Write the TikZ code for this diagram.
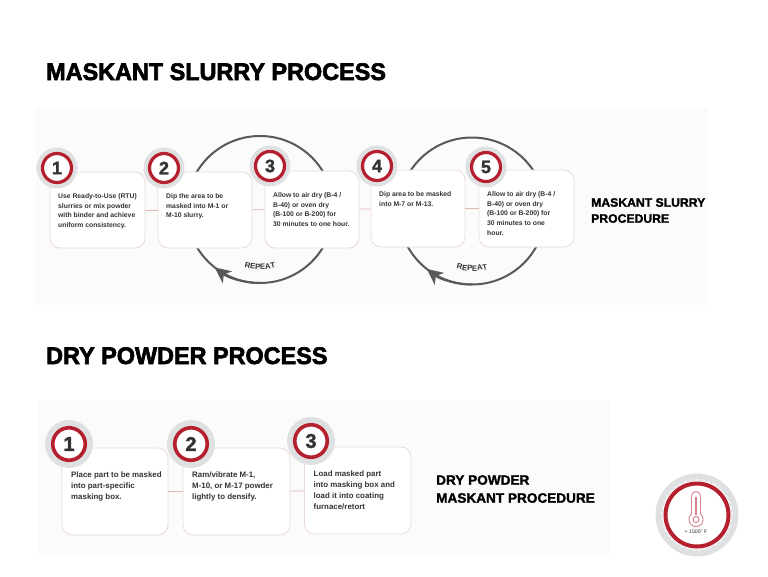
\documentclass[tikz,border=0pt]{standalone}
\usepackage{fontspec}
\setmainfont{Liberation Sans}
\newfontfamily\headfont[FakeBold=1.6]{Liberation Sans Bold}
\newfontfamily\titlefont[FakeBold=2.6,FakeStretch=0.975]{Liberation Sans Bold}
\usepackage{tikz}
\usetikzlibrary{arrows.meta,decorations.text}
\definecolor{maskred}{HTML}{B5202F}
\definecolor{ringgray}{HTML}{DFE0E2}
\definecolor{panelgray}{HTML}{FBFBFB}
\definecolor{boxline}{HTML}{EBD9D7}
\definecolor{linkred}{HTML}{E3B4B0}
\definecolor{loopgray}{HTML}{58595B}
\definecolor{inkgray}{HTML}{333333}
\tikzset{
  stepbox/.style={draw=boxline,fill=white,rounded corners=10pt,line width=0.8pt,inner sep=0pt},
  steptext/.style={anchor=north west,align=left,inner sep=0pt,font=\fontsize{6.8}{9.6}\selectfont\bfseries,text=inkgray},
  badge/.style={circle,fill=white,draw=maskred,inner sep=0pt,font=\headfont,text=inkgray},
  link/.style={draw=linkred,line width=0.8pt},
  loopline/.style={draw=loopgray,line width=2pt},
  title/.style={anchor=base west,inner sep=0pt,font=\titlefont\fontsize{24}{24}\selectfont,text=black},
  proc/.style={anchor=north west,inner sep=0pt,align=left,text=black}
}
\begin{document}
\begin{tikzpicture}[x=1pt,y=-1pt]
\useasboundingbox (0,0) rectangle (768,576);
\fill[white] (0,0) rectangle (768,576);
\fill[panelgray] (35,108) rectangle (708,305);
\fill[panelgray] (38,401) rectangle (610,555);

% Titles
\node[title] (slurrytitle) at (46,80) {MASKANT SLURRY PROCESS};
\node[title] (drytitle) at (46,364) {DRY POWDER PROCESS};

% Repeat loops
\foreach \l/\x/\y in {a/260/209.5, b/472/211} {
    \coordinate (loop\l) at (\x,\y);
    \draw[loopline] (loop\l) circle (73.5);
    \draw[loopline,-{Stealth[length=16pt,width=15pt,inset=4.5pt]}] (\x,\y+73.5) arc[start angle=90,end angle=128,radius=73.5];
    \path[decorate,decoration={text along path,text align=center,
        text={|\fontsize{7.8}{8}\selectfont\bfseries\color{inkgray}|REPEAT}}]
        (loop\l) ++(125:60) arc[start angle=125,end angle=55,radius=60];
}

% Maskant slurry steps
\foreach \n/\xl/\yt/\xr/\yb/\txt in {
    1/50/172/145/248/{Use Ready-to-Use (RTU)\\slurries or mix powder\\with binder and achieve\\uniform consistency.},
    2/158/172/252/248/{Dip the area to be\\masked into M-1 or\\M-10 slurry.},
    3/265/171/359/248/{Allow to air dry (B-4 /\\B-40) or oven dry\\(B-100 or B-200) for\\30 minutes to one hour.},
    4/371/170/465/247/{Dip area to be masked\\into M-7 or M-13.},
    5/479/170/574/247/{Allow to air dry (B-4 /\\B-40) or oven dry\\(B-100 or B-200) for\\30 minutes to one\\hour.}} {
    \node[stepbox,minimum width=\xr-\xl,minimum height=\yb-\yt] (s\n) at ({(\xl+\xr)/2},{(\yt+\yb)/2}) {};
    \node[steptext] (st\n) at (\xl+8,\yt+21.5) {\txt};
}
\foreach \a/\b in {1/2,2/3,3/4,4/5} {
    \draw[link] (s\a) -- (s\b);
}

% Numbered badges
\foreach \n/\x/\y in {1/57/168, 2/164/168, 3/270/166, 4/377/166, 5/486/167} {
    \node[circle,fill=ringgray,minimum size=41pt,inner sep=0pt] (sr\n) at (\x,\y) {};
    \node[badge,line width=3.2pt,minimum size=29pt,font=\headfont\fontsize{18}{18}\selectfont] (sb\n) at (\x,\y) {\n};
}
\node[proc,font=\headfont\fontsize{12.2}{16}\selectfont] (slurryproc) at (591,198) {MASKANT SLURRY\\PROCEDURE};

% Dry powder steps
\foreach \n/\xl/\yt/\xr/\yb/\txt in {
    1/62/448/168/535/{Place part to be masked\\into part-specific\\masking box.},
    2/183/448/290/535/{Ram/vibrate M-1,\\M-10, or M-17 powder\\lightly to densify.},
    3/304.5/447/411/534/{Load masked part\\into masking box and\\load it into coating\\furnace/retort}} {
    \node[stepbox,minimum width=\xr-\xl,minimum height=\yb-\yt] (d\n) at ({(\xl+\xr)/2},{(\yt+\yb)/2}) {};
    \node[steptext,font=\fontsize{7.9}{11}\selectfont\bfseries] (dt\n) at (\xl+9,\yt+24) {\txt};
}
\foreach \a/\b in {1/2,2/3} {
    \draw[link] (d\a) -- (d\b);
}
\foreach \n/\x/\y in {1/69/444, 2/191/444, 3/311/441} {
    \node[circle,fill=ringgray,minimum size=48pt,inner sep=0pt] (dr\n) at (\x,\y) {};
    \node[badge,line width=3.6pt,minimum size=32.5pt,font=\headfont\fontsize{20}{20}\selectfont] (db\n) at (\x,\y) {\n};
}
\node[proc,font=\headfont\fontsize{13.6}{18}\selectfont] (dryproc) at (436,475) {DRY POWDER\\MASKANT PROCEDURE};

% Temperature medallion
\node[circle,draw=ringgray,line width=7pt,minimum size=76pt,fill=white,inner sep=0pt] (medring) at (697,515) {};
\node[circle,draw=white,dashed,line width=0.5pt,minimum size=71pt,inner sep=0pt] (meddash) at (697,515) {};
\node[circle,draw=maskred,line width=4pt,minimum size=63pt,fill=white,inner sep=0pt] (medred) at (697,515) {};
\draw[maskred!55,line width=0.9pt] (691.5,496) arc[start angle=180,end angle=360,radius=4.5] -- (700.5,514) arc[start angle=-50.7,end angle=230.7,radius=7.1] -- cycle;
\draw[maskred!55,line width=1.6pt] (696,497) -- (696,515);
\node[circle,draw=maskred!55,line width=1pt,minimum size=6pt,inner sep=0pt] (medbulb) at (696,519.5) {};
\node[font=\fontsize{5.2}{6}\selectfont,text=inkgray] (medtext) at (696,532) {> 1500° F};
\end{tikzpicture}
\end{document}
